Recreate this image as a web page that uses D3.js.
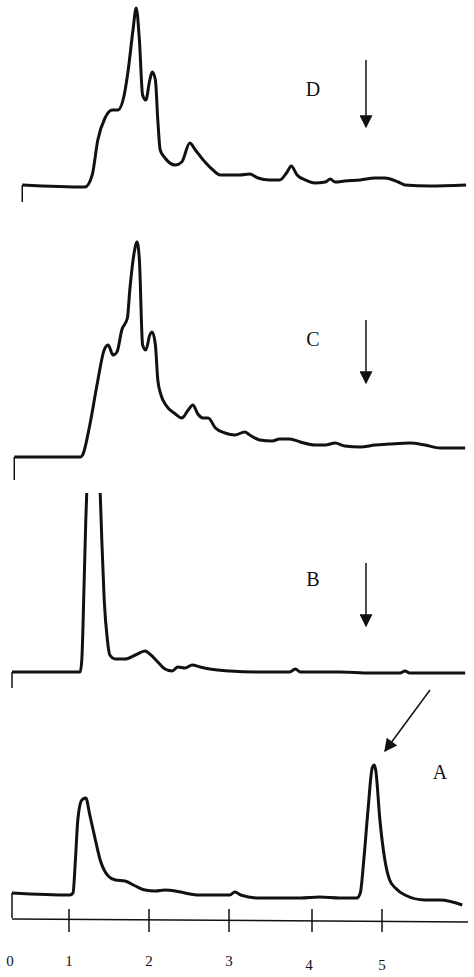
<!DOCTYPE html>
<html>
<head>
<meta charset="utf-8">
<script src="https://cdn.jsdelivr.net/npm/d3@7"></script>
<style>
  body { margin: 0; background: #fff; }
  text { font-family: "Liberation Serif", serif; fill: #111; }
</style>
</head>
<body>
<svg id="chart" width="474" height="977"></svg>
<script>
// retention time (min) / detector signal
const timeD = [0.18,1.20,1.29,1.36,1.45,1.54,1.61,1.69,1.74,1.80,1.84,1.88,1.92,1.96,2.01,2.04,2.08,2.11,2.14,2.20,2.33,2.41,2.51,2.58,2.70,2.80,2.89,3.13,3.25,3.35,3.49,3.61,3.70,3.75,3.82,3.92,4.04,4.19,4.26,4.33,4.47,4.69,4.90,5.03,5.17,5.24,5.50,5.88]
const sigD  = [1,-1,11,46,68,76,76,91,116,156,178,146,91,86,106,114,106,66,36,28,21,24,43,36,24,16,11,11,12,8,6,6,14,20,11,6,3,4,7,4,5,6,8,8,4,1,0,1]

const timeC = [0.04,1.14,1.17,1.26,1.35,1.44,1.49,1.55,1.60,1.66,1.73,1.76,1.81,1.85,1.88,1.92,1.96,2.01,2.04,2.08,2.11,2.15,2.21,2.33,2.41,2.49,2.55,2.61,2.68,2.74,2.83,2.95,3.07,3.19,3.25,3.37,3.52,3.61,3.73,3.86,4.04,4.19,4.33,4.47,4.69,4.90,5.08,5.29,5.45,5.61,5.87]
const sigC  = [0,0,2,32,72,107,112,102,105,127,139,167,202,215,197,112,107,122,125,112,77,62,52,43,39,47,52,43,39,39,29,24,22,25,22,17,16,18,18,15,12,12,14,11,10,12,13,14,12,9,9]

const timeB = [0,1.14,1.16,1.19,1.21,1.24,1.30,1.36,1.39,1.41,1.44,1.48,1.51,1.58,1.70,1.83,1.95,2.01,2.11,2.20,2.29,2.36,2.45,2.54,2.64,2.76,3.01,3.37,3.73,3.80,3.86,4.40,4.83,5.19,5.24,5.29,5.87]
const sigB  = [0,0,12,92,152,220,400,220,179,132,72,32,17,13,13,17,21,18,10,3,1,5,4,7,5,3,1,0,0,3,0,0,-1,-1,1,-1,-1]

const timeA = [0,1.01,1.05,1.08,1.11,1.16,1.21,1.26,1.33,1.39,1.49,1.58,1.70,1.83,1.95,2.08,2.20,2.33,2.45,2.64,3.01,3.07,3.14,3.37,3.86,4.11,4.40,4.64,4.69,4.74,4.80,4.86,4.89,4.91,4.97,5.03,5.08,5.14,5.24,5.45,5.61,5.84]
const sigA  = [1,-1,1,34,74,94,96,79,54,34,18,14,13,8,4,3,4,3,1,-1,-1,2,-1,-4,-4,-3,-4,-4,1,34,84,126,129,124,74,34,14,6,-1,-6,-6,-11]

const traceLabels = ["D", "C", "B", "A"]
const tickValues = [1, 2, 3, 4, 5]
const tickLabels = ["0", "1", "2", "3", "4", "5"]

const svg = d3.select("#chart")

// the scanned axis is not quite linear, so piecewise
const x = d3.scaleLinear()
    .domain([0, 1, 2, 3, 4, 5, 5.9])
    .range([12, 69, 149, 229, 312, 382, 468])

const panels = [
    { time: timeD, sig: sigD, base: 186, startX: 0.18, tickEnd: 202, label: [313, 96], arrow: [366, 60, 366, 127] },
    { time: timeC, sig: sigC, base: 457, startX: 0.04, tickEnd: 480, label: [313, 346], arrow: [366, 320, 366, 383] },
    { time: timeB, sig: sigB, base: 672, startX: 0, tickEnd: 688, label: [313, 586], arrow: [366, 563, 366, 626] },
    { time: timeA, sig: sigA, base: 894, startX: 0, tickEnd: 918, label: [440, 779], arrow: [430, 690, 385, 751] }
]
panels[2].clipTop = 493

const defs = svg.append("defs")
defs.append("marker")
    .attr("id", "head")
    .attr("viewBox", "0 0 10 10")
    .attr("refX", 9).attr("refY", 5)
    .attr("markerWidth", 15).attr("markerHeight", 13)
    .attr("markerUnits", "userSpaceOnUse")
    .attr("orient", "auto")
    .append("path").attr("d", "M0,0 L10,5 L0,10 z").attr("fill", "#111")

panels.forEach((p, i) => {
    const y = d3.scaleLinear().domain([0, 100]).range([p.base, p.base - 100])
    const line = d3.line()
        .x((d, j) => x(p.time[j]))
        .y(d => y(d))
        .curve(d3.curveMonotoneX)

    let g = svg.append("g")
    if (p.clipTop) {
        defs.append("clipPath").attr("id", "clip" + i)
            .append("rect").attr("x", 0).attr("y", p.clipTop).attr("width", 474).attr("height", 977)
        g.attr("clip-path", `url(#clip${i})`)
    }
    g.append("path")
        .datum(p.sig)
        .attr("d", line)
        .attr("fill", "none")
        .attr("stroke", "#111")
        .attr("stroke-width", 3)
        .attr("stroke-linejoin", "round")

    // start-of-run mark
    svg.append("line")
        .attr("x1", x(p.startX)).attr("x2", x(p.startX))
        .attr("y1", y(p.sig[0])).attr("y2", p.tickEnd)
        .attr("stroke", "#111").attr("stroke-width", 1.5)

    svg.append("text")
        .attr("x", p.label[0]).attr("y", p.label[1])
        .attr("text-anchor", "middle")
        .attr("font-size", 20)
        .text(traceLabels[i])

    const a = p.arrow
    svg.append("line")
        .attr("x1", a[0]).attr("y1", a[1]).attr("x2", a[2]).attr("y2", a[3])
        .attr("stroke", "#111").attr("stroke-width", 1.5)
        .attr("marker-end", "url(#head)")
})

// time axis
const axisY = 919
svg.append("line")
    .attr("x1", x(0)).attr("x2", 468)
    .attr("y1", axisY).attr("y2", axisY + 3)
    .attr("stroke", "#111").attr("stroke-width", 1.5)

svg.selectAll(".tick")
    .data(tickValues)
    .join("line")
    .attr("x1", d => x(d)).attr("x2", d => x(d))
    .attr("y1", axisY - 10).attr("y2", axisY + 13)
    .attr("stroke", "#111").attr("stroke-width", 1.5)

svg.selectAll(".tlab")
    .data(tickLabels)
    .join("text")
    .attr("x", (d, i) => i === 0 ? 10 : x(i) + (i === 4 ? -3 : 0))
    .attr("y", (d, i) => i >= 4 ? 970 : 966)
    .attr("text-anchor", "middle")
    .attr("font-size", 15)
    .text(d => d)
</script>
</body>
</html>
